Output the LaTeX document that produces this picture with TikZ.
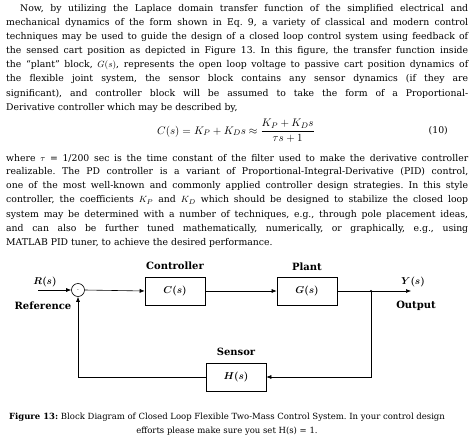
\documentclass[tikz,border=0pt]{standalone}
\usepackage{amsmath}
\usepackage{fontspec}
\setmainfont{DejaVu Serif}
\frenchspacing
\usetikzlibrary{arrows.meta}
\newcommand{\jl}[2]{\node[anchor=west,inner sep=0pt,font=\fontsize{9.3}{12}\selectfont] at (6,-#1) {\makebox[462pt][s]{#2}};}
\newcommand{\nl}[2]{\node[anchor=west,inner sep=0pt,font=\fontsize{9.3}{12}\selectfont] at (6,-#1) {#2};}
\begin{document}
\begin{tikzpicture}[x=1pt,y=1pt,
  blk/.style={draw,line width=0.6pt,minimum width=60pt,minimum height=28pt,inner sep=0pt,font=\boldmath},
  lab/.style={font=\bfseries\fontsize{10}{12}\selectfont,inner sep=0pt},
  arr/.style={line width=0.6pt,-{Latex[length=5pt,width=4pt]}},
  ln/.style={line width=0.6pt}]
\useasboundingbox (0,0) rectangle (474,-439);
\jl{9}{\hspace*{14pt}Now, by utilizing the Laplace domain transfer function of the simplified electrical and}
\jl{23}{mechanical dynamics of the form shown in Eq. 9, a variety of classical and modern control}
\jl{37}{techniques may be used to guide the design of a closed loop control system using feedback of}
\jl{51}{the sensed cart position as depicted in Figure 13. In this figure, the transfer function inside}
\jl{65}{the ``plant'' block, $G(s)$, represents the open loop voltage to passive cart position dynamics of}
\jl{79}{the flexible joint system, the sensor block contains any sensor dynamics (if they are}
\jl{94}{significant), and controller block will be assumed to take the form of a Proportional-}
\nl{108}{Derivative controller which may be described by,}
\node[inner sep=0pt,font=\fontsize{11}{12}\selectfont] (eq) at (236,-131) {$C(s)=K_P+K_Ds\approx\dfrac{K_P+K_Ds}{\tau s+1}$};
\node[inner sep=0pt,font=\fontsize{9.3}{12}\selectfont,anchor=east] (eqn) at (448,-131) {(10)};
\jl{158}{where $\tau$ = 1/200 sec is the time constant of the filter used to make the derivative controller}
\jl{172}{realizable. The PD controller is a variant of Proportional-Integral-Derivative (PID) control,}
\jl{186}{one of the most well-known and commonly applied controller design strategies. In this style}
\jl{200}{controller, the coefficients $K_P$ and $K_D$ which should be designed to stabilize the closed loop}
\jl{215}{system may be determined with a number of techniques, e.g., through pole placement ideas,}
\jl{229}{and can also be further tuned mathematically, numerically, or graphically, e.g., using}
\nl{243}{MATLAB PID tuner, to achieve the desired performance.}
% diagram
\coordinate (in) at (38,-290);
\node[draw,circle,line width=0.6pt,minimum size=13pt,inner sep=0pt] (sum) at (78,-290) {};
\node[font=\tiny,inner sep=0pt] at (78,-291) {-};
\node[blk] (C) at (175,-291) {$C(s)$};
\node[blk] (G) at (307,-291) {$G(s)$};
\node[blk] (H) at (236,-377) {$H(s)$};
\coordinate (j) at (371,-291);
\coordinate (out) at (411,-291);
\fill (j) circle (1.2pt);
\draw[arr] (in) -- (sum.west);
\draw[arr] (sum.east) -- (C.west);
\draw[arr] (C.east) -- (G.west);
\draw[ln] (G.east) -- (j);
\draw[arr] (j) -- (out);
\draw[arr] (j) |- (H.east);
\draw[arr] (H.west) -| (sum.south);
\node[lab] (lc) at (175,-266) {Controller};
\node[lab] (lp) at (307,-267) {Plant};
\node[lab] (ls) at (236,-352) {Sensor};
\node[lab,font=\boldmath] (lr) at (45,-282) {$R(s)$};
\node[lab] (lref) at (43,-306) {Reference};
\node[lab,font=\boldmath] (ly) at (413,-282) {$Y(s)$};
\node[lab] (lo) at (416,-306) {Output};
\node[inner sep=0pt,font=\fontsize{8.5}{14}\selectfont,align=center] (cap) at (227,-424) {\textbf{Figure 13:} Block Diagram of Closed Loop Flexible Two-Mass Control System. In your control design\\efforts please make sure you set H(s) = 1.};
\end{tikzpicture}
\end{document}
